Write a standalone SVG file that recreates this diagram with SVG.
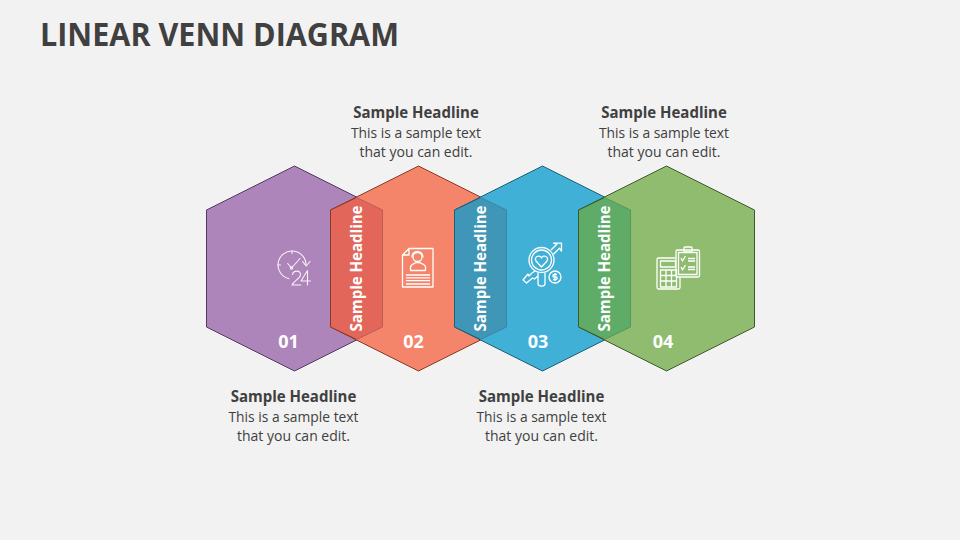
<svg xmlns="http://www.w3.org/2000/svg" width="960" height="540" viewBox="0 0 960 540">
<style>
text{font-family:"Open Sans","Liberation Sans",sans-serif}
.title{font-size:32px;font-weight:700;fill:#404040}
.h{font-size:16px;font-weight:700;fill:#404040;text-anchor:middle}
.b{font-size:14px;fill:#404040;text-anchor:middle}
.n{font-size:18px;font-weight:700;fill:#fff;text-anchor:middle}
.v{font-size:16px;font-weight:700;fill:#fff;text-anchor:middle}
.i{fill:none;stroke:#fff;stroke-width:1.1;stroke-linecap:round;stroke-linejoin:round;opacity:.9}
.i2{fill:none;stroke:#fff;stroke-width:1.3;stroke-linejoin:round}
</style>
<defs>
<polygon id="hex" points="0,-102.500 88,-58.500 88,58.500 0,102.500 -88,58.500 -88,-58.500"/>
<polygon id="lens" points="0,-71 26,-58.500 26,58.500 0,71 -26,58.500 -26,-58.500"/>
</defs>
<rect width="960" height="540" fill="#f2f2f2"/>
<text class="title" x="40" y="46" textLength="359" lengthAdjust="spacingAndGlyphs">LINEAR VENN DIAGRAM</text>

<g id="node1"><use href="#hex" transform="translate(294.500 268.500)" fill="#ae85ba" stroke="#4f3a63" stroke-width="1"/>
<g class="i"><path d="M289 278.700A14 14 0 1 1 306 265"/><path d="M302.500 261.500l3.700 4.500 3.800-4.500"/><path d="M291.500 268l-3.800-4.500M291.500 268l8.500-9.500"/><circle cx="291.500" cy="268" r="1.200"/><path d="M292 251v2.500M278 265h2.500"/>
<path d="M292.500 274.500c.8-4.500 7.800-4.500 8 0c.2 3.500-6.500 6.500-8.500 10.500h8.800"/><path d="M307.500 285v-14.500l-6.500 10.500h9.500"/></g>
<text class="n" x="288.500" y="348">01</text></g>

<g id="node2"><use href="#hex" transform="translate(418.500 268.500)" fill="#f4846a" stroke="#8a3a25" stroke-width="1"/>
<g class="i2"><path d="M409 248.500h24v38.500h-30.500v-32zM409 248.500v6.500h-6.500"/><circle cx="417.500" cy="257" r="4.500"/><path d="M412 257.500c-.5-8 11-8 11 0M410.500 270.500v-3.500c0-2.500 4-3.500 5.500-4.500h3.500c1.500 1 6 2 6 4.500v3.500z"/><path d="M406 275h24M406 277.800h24M406 280.600h24M406 284h24"/></g>
<text class="n" x="413.500" y="348">02</text></g>

<g id="node3"><use href="#hex" transform="translate(542.500 268.500)" fill="#41b0d6" stroke="#1f5f78" stroke-width="1"/>
<g class="i2"><circle cx="541.500" cy="260" r="12.500"/><circle cx="541.500" cy="260" r="10"/><path d="M541.500 267l-5.500-6c-2.500-4 3.500-7 5.500-3c2-4 8-1 5.500 3z"/><path d="M538 272.500v11c0 3.500 7 3.500 7 0v-11"/><path d="M551 250l6-6l-3.500-.8h8v8l-2-3l-6 6"/><path d="M535 271l-3 2l-3 3-1-2-5 6 3.500 3 6-5 2 1 3.500-3"/><circle cx="555" cy="277" r="6"/><path d="M557 274.500h-3c-1.500 0-1.500 2.500 0 2.500h2c1.500 0 1.500 2.500 0 2.500h-3M555 273v8"/></g>
<text class="n" x="538" y="348">03</text></g>

<g id="node4"><use href="#hex" transform="translate(666.500 268.500)" fill="#8fbc6f" stroke="#3e5a2a" stroke-width="1"/>
<g class="i2"><path d="M675.500 258h-17a1.500 1.500 0 0 0-1.500 1.500v28a1.500 1.500 0 0 0 1.500 1.500h20a1.500 1.500 0 0 0 1.500-1.500v-10"/><path d="M660.500 261h15v6h-15zM660.500 270h16v17h-16zM660.500 275.500h16M660.500 281h16M666 270v17M671.500 270v17"/><rect x="676" y="250" width="23.500" height="27" rx="1.500"/><rect x="678.500" y="252.500" width="18.500" height="22"/><rect x="684" y="247" width="8" height="5" rx="1"/><path d="M681 258l1.500 3 3-5M681 267l1.500 3 3-5M688 258.500h7M688 261h7M688 267h7M688 269.500h7"/></g>
<text class="n" x="663" y="348">04</text></g>

<g id="connectors">
<use href="#lens" transform="translate(356.500 268.500)" fill="#e2675a"/>
<use href="#lens" transform="translate(480.500 268.500)" fill="#3f96b6"/>
<use href="#lens" transform="translate(604.500 268.500)" fill="#5fab68"/>
<path d="M356.500 197.500L330.500 210V327L356.500 339.500" fill="none" stroke="#8a3a25"/>
<path d="M356.500 197.500L382.500 210V327L356.500 339.500" fill="none" stroke="#b0574f" stroke-width=".8"/>
<path d="M480.500 197.500L454.500 210V327L480.500 339.500" fill="none" stroke="#1f5f78"/>
<path d="M480.500 197.500L506.500 210V327L480.500 339.500" fill="none" stroke="#3a7f9b" stroke-width=".8"/>
<path d="M604.500 197.500L578.500 210V327L604.500 339.500" fill="none" stroke="#3e5a2a"/>
<path d="M604.500 197.500L630.500 210V327L604.500 339.500" fill="none" stroke="#4f8f58" stroke-width=".8"/>
</g>

<text class="v" transform="translate(361.500 268.500) rotate(-90)" textLength="126" lengthAdjust="spacingAndGlyphs">Sample Headline</text>
<text class="v" transform="translate(485.500 268.500) rotate(-90)" textLength="126" lengthAdjust="spacingAndGlyphs">Sample Headline</text>
<text class="v" transform="translate(609.500 268.500) rotate(-90)" textLength="126" lengthAdjust="spacingAndGlyphs">Sample Headline</text>

<g id="label2"><text class="h" x="416" y="118" textLength="125.500" lengthAdjust="spacingAndGlyphs">Sample Headline</text><text class="b" x="416" y="138" textLength="130" lengthAdjust="spacingAndGlyphs">This is a sample text</text><text class="b" x="416" y="157" textLength="113" lengthAdjust="spacingAndGlyphs">that you can edit.</text></g>
<g id="label4"><text class="h" x="664" y="118" textLength="125.500" lengthAdjust="spacingAndGlyphs">Sample Headline</text><text class="b" x="664" y="138" textLength="130" lengthAdjust="spacingAndGlyphs">This is a sample text</text><text class="b" x="664" y="157" textLength="113" lengthAdjust="spacingAndGlyphs">that you can edit.</text></g>
<g id="label1"><text class="h" x="293.500" y="402" textLength="125.500" lengthAdjust="spacingAndGlyphs">Sample Headline</text><text class="b" x="293.500" y="422" textLength="130" lengthAdjust="spacingAndGlyphs">This is a sample text</text><text class="b" x="293.500" y="441" textLength="113" lengthAdjust="spacingAndGlyphs">that you can edit.</text></g>
<g id="label3"><text class="h" x="541.500" y="402" textLength="125.500" lengthAdjust="spacingAndGlyphs">Sample Headline</text><text class="b" x="541.500" y="422" textLength="130" lengthAdjust="spacingAndGlyphs">This is a sample text</text><text class="b" x="541.500" y="441" textLength="113" lengthAdjust="spacingAndGlyphs">that you can edit.</text></g>
</svg>
